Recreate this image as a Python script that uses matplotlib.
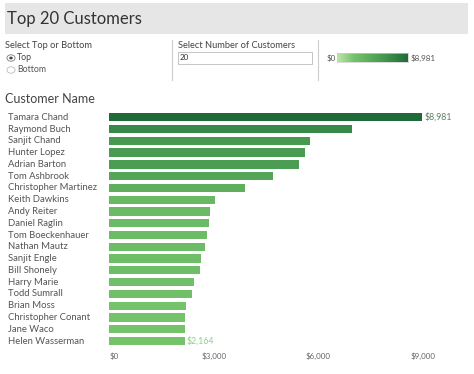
import matplotlib.pyplot as plt
from matplotlib.colors import LinearSegmentedColormap
from matplotlib.patches import Rectangle, Circle
import numpy as np

plt.rcParams['font.family'] = ['Lato', 'DejaVu Sans']

customers = ["Tamara Chand", "Raymond Buch", "Sanjit Chand", "Hunter Lopez", "Adrian Barton",
             "Tom Ashbrook", "Christopher Martinez", "Keith Dawkins", "Andy Reiter", "Daniel Raglin",
             "Tom Boeckenhauer", "Nathan Mautz", "Sanjit Engle", "Bill Shonely", "Harry Marie",
             "Todd Sumrall", "Brian Moss", "Christopher Conant", "Jane Waco", "Helen Wasserman"]
profit = [8981, 6976, 5757, 5622, 5445, 4704, 3900, 3039, 2885, 2869,
          2798, 2752, 2651, 2616, 2438, 2372, 2199, 2177, 2166, 2164]
ticks = [0, 3000, 6000, 9000]
tick_labels = ["$0", "$3,000", "$6,000", "$9,000"]

cmap = LinearSegmentedColormap.from_list(
    "tgreen", [(0, "#bde6aa"), (0.24, "#74c26a"), (0.62, "#4a9c52"), (1, "#1f6b37")])
vmax = max(profit)

W, H = 474, 374
fig = plt.figure(figsize=(W / 100, H / 100), dpi=100)
fig.patch.set_facecolor("white")

def fx(x):
    return x / W

def fy(y):
    return 1 - y / H

# title band
fig.patches.append(Rectangle((fx(5), fy(34)), fx(463), 31 / H, transform=fig.transFigure,
                             facecolor="#e6e6e6", edgecolor="none"))
fig.text(fx(7), fy(19), "Top 20 Customers", fontsize=12, color="#333333", va="center")

# controls
fig.text(fx(5), fy(46), "Select Top or Bottom", fontsize=6.7, color="#444444", va="center")
fig.patches.append(Circle((fx(11), fy(58)), 3.2 / H, transform=fig.transFigure,
                          facecolor="white", edgecolor="#777777", lw=0.6))
fig.patches.append(Circle((fx(11), fy(58)), 1.4 / H, transform=fig.transFigure,
                          facecolor="#444444", edgecolor="none"))
fig.text(fx(17), fy(58), "Top", fontsize=6.3, color="#444444", va="center")
fig.patches.append(Circle((fx(11), fy(70)), 3.2 / H, transform=fig.transFigure,
                          facecolor="white", edgecolor="#bbbbbb", lw=0.6))
fig.text(fx(17), fy(70), "Bottom", fontsize=6.3, color="#555555", va="center")

for xs in (172, 318):
    fig.lines.append(plt.Line2D([fx(xs), fx(xs)], [fy(40), fy(80)], transform=fig.transFigure,
                                color="#cccccc", lw=0.8))

fig.text(fx(178), fy(46), "Select Number of Customers", fontsize=6.7, color="#444444", va="center")
fig.patches.append(Rectangle((fx(178), fy(64)), fx(134), 12 / H, transform=fig.transFigure,
                             facecolor="white", edgecolor="#bbbbbb", lw=0.6))
fig.text(fx(180), fy(58), "20", fontsize=5.8, color="#333333", va="center")

# colour legend
fig.text(fx(327), fy(58), "$0", fontsize=5.8, color="#555555", va="center")
lax = fig.add_axes([fx(337), fy(62), fx(71), 9 / H])
lax.imshow(np.linspace(0, 1, 200)[None, :], aspect="auto", cmap=cmap)
lax.set_xticks([])
lax.set_yticks([])
for s in lax.spines.values():
    s.set_color("#cccccc")
    s.set_linewidth(0.5)
fig.text(fx(411), fy(58), "$8,981", fontsize=5.8, color="#555555", va="center")

fig.text(fx(5), fy(99), "Customer Name", fontsize=9, color="#444444", va="center")

# bars
ax = fig.add_axes([fx(109), fy(346.9), fx(468 - 109), (346.9 - 111.4) / H])
y = np.arange(len(customers))
colors = [cmap(v / vmax) for v in profit]
ax.barh(y, profit, height=0.7, color=colors, edgecolor="none")
ax.set_xlim(0, (468 - 109) / 0.03489)
ax.set_ylim(len(customers) - 0.5, -0.5)
ax.set_yticks([])
ax.set_xticks([])
for s in ax.spines.values():
    s.set_visible(False)

for i, name in enumerate(customers):
    fig.text(fx(8), fy(117.3 + 11.78 * i), name, fontsize=6.8, color="#555555", va="center")

ax.text(profit[0] + 70, 0, "$8,981", fontsize=6.3, color="#5d7f64", va="center")
ax.text(profit[-1] + 70, len(customers) - 1, "$2,164", fontsize=6.3, color="#8fcf88", va="center")

for t, lab in zip(ticks, tick_labels):
    xpix = 109 + t * 0.03489
    ha = "left" if t == 0 else "center"
    fig.text(fx(xpix if t else 110), fy(356.5), lab, fontsize=5.8, color="#666666",
             va="center", ha=ha)

fig.savefig("out.png", dpi=100)
